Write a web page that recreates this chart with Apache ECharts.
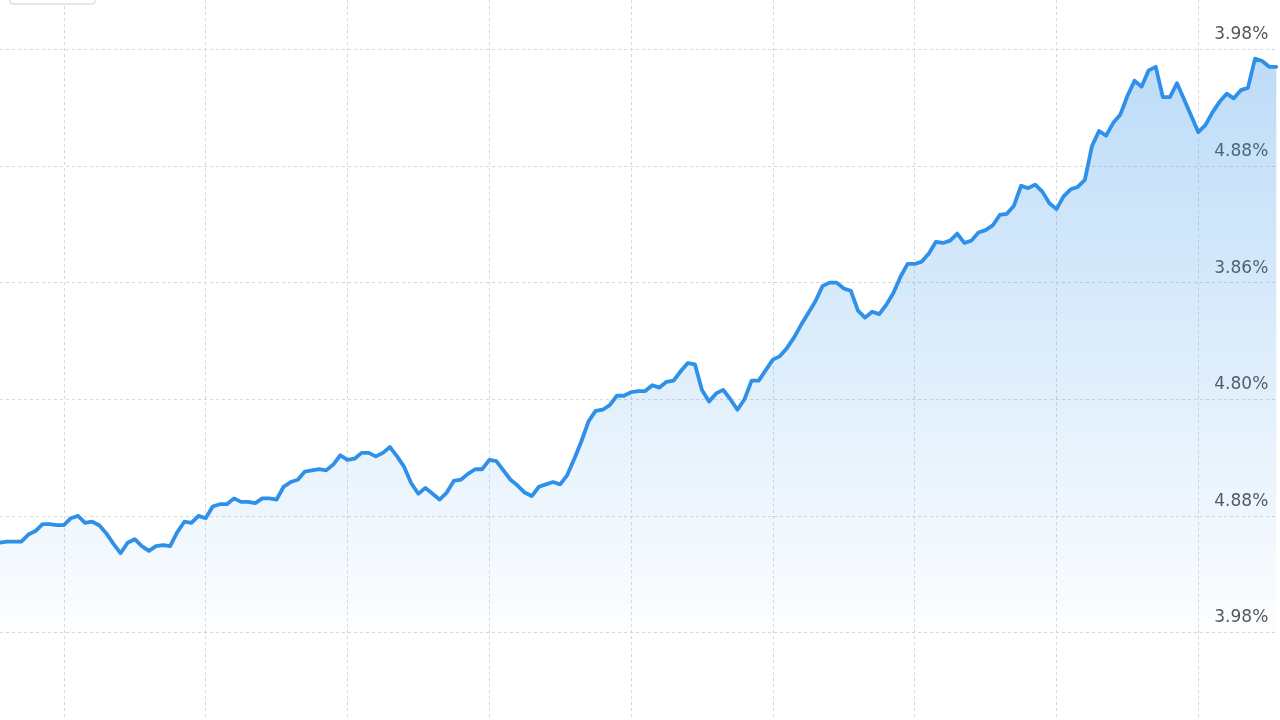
<!DOCTYPE html>
<html>
<head>
<meta charset="utf-8">
<style>html,body{margin:0;padding:0;background:#fff;}#c{width:1280px;height:720px;}</style>
<script src="https://cdn.jsdelivr.net/npm/echarts@6/dist/echarts.min.js"></script>
</head>
<body>
<div id="c"></div>
<script>
const values = [
0.77,0.78,0.78,0.78,0.84,0.87,0.93,0.93,0.92,0.92,
0.98,1.00,0.94,0.95,0.92,0.85,0.76,0.68,0.77,0.80,
0.74,0.70,0.74,0.75,0.74,0.86,0.95,0.94,1.00,0.98,
1.08,1.10,1.10,1.15,1.12,1.12,1.11,1.15,1.15,1.14,
1.25,1.29,1.31,1.38,1.39,1.40,1.39,1.44,1.52,1.48,
1.49,1.54,1.54,1.51,1.54,1.59,1.51,1.42,1.28,1.19,
1.24,1.19,1.14,1.20,1.30,1.31,1.36,1.40,1.40,1.48,
1.47,1.39,1.31,1.26,1.20,1.17,1.25,1.27,1.29,1.27,
1.35,1.49,1.64,1.81,1.90,1.91,1.95,2.03,2.03,2.06,
2.07,2.07,2.12,2.10,2.15,2.16,2.24,2.31,2.30,2.08,
1.98,2.05,2.08,2.00,1.91,2.00,2.16,2.16,2.25,2.34,
2.37,2.44,2.53,2.64,2.74,2.84,2.97,3.00,3.00,2.95,
2.93,2.76,2.70,2.75,2.73,2.81,2.91,3.05,3.16,3.16,
3.18,3.25,3.35,3.34,3.36,3.42,3.34,3.36,3.43,3.45,
3.49,3.58,3.59,3.66,3.83,3.81,3.84,3.78,3.68,3.63,
3.74,3.80,3.82,3.88,4.17,4.30,4.26,4.37,4.44,4.60,
4.73,4.68,4.82,4.85,4.59,4.59,4.71,4.57,4.43,4.29,
4.35,4.46,4.55,4.62,4.58,4.65,4.67,4.92,4.90,4.85,
4.85
];
const categories = values.map((v, i) => String(i));
// horizontal grid levels (bottom to top) and their tick labels
const tickValues = [0, 1, 2, 3, 4, 5];
const tickLabels = ['3.98%', '4.88%', '4.80%', '3.86%', '4.88%', '3.98%'];

const chart = echarts.init(document.getElementById('c'), null, {renderer: 'canvas'});
const gridColor = '#d8d8d8';
chart.setOption({
  animation: false,
  backgroundColor: '#ffffff',
  grid: {left: 0, right: 3.7, top: 0, bottom: 0, containLabel: false},
  graphic: [{
    type: 'rect',
    shape: {x: 10, y: -30, width: 85, height: 34, r: 3},
    style: {fill: '#ffffff', stroke: '#cfcfcf', lineWidth: 1},
    z: 100
  }],
  xAxis: {
    type: 'category',
    data: categories,
    boundaryGap: false,
    axisLine: {show: false},
    axisTick: {show: false},
    axisLabel: {show: false},
    splitLine: {
      show: true,
      interval: function (index) { return (index - 9) % 20 === 0; },
      lineStyle: {color: gridColor, type: [3, 3], width: 1}
    }
  },
  yAxis: {
    type: 'value',
    min: -0.75,
    max: 5.423,
    axisLine: {show: false},
    axisTick: {show: false},
    axisLabel: {show: false},
    splitLine: {show: false}
  },
  series: [{
    type: 'line',
    name: 'grid',
    data: [],
    z: 1,
    silent: true,
    markLine: {
      z: 1,
      silent: true,
      symbol: 'none',
      animation: false,
      lineStyle: {color: gridColor, type: [3, 3], width: 1},
      label: {
        show: true,
        position: 'insideEndTop',
        distance: [8, 6],
        color: '#555555',
        fontFamily: 'DejaVu Sans',
        fontSize: 17,
        formatter: function (p) { return tickLabels[p.dataIndex]; }
      },
      data: tickValues.map(v => ({yAxis: v}))
    }
  }, {
    type: 'line',
    data: values,
    showSymbol: false,
    symbol: 'none',
    smooth: false,
    lineStyle: {color: '#2E90E8', width: 3.8, join: 'round', cap: 'round'},
    areaStyle: {
      color: new echarts.graphic.LinearGradient(0, 0, 0, 1, [
        {offset: 0, color: 'rgba(46,144,232,0.45)'},
        {offset: 1, color: 'rgba(46,144,232,0.02)'}
      ])
    },
    z: 3
  }]
});
</script>
</body>
</html>
